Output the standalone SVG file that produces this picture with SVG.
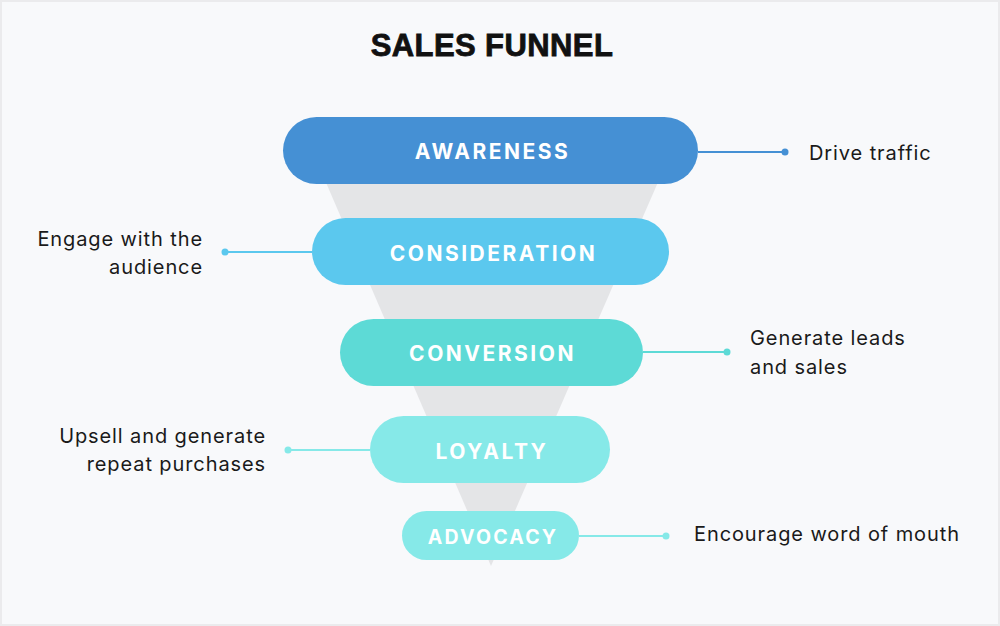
<svg xmlns="http://www.w3.org/2000/svg" width="1000" height="626" viewBox="0 0 1000 626">
<style>
.lbl{font-family:Inter,"Liberation Sans",sans-serif;font-weight:700;font-size:21px;fill:#ffffff;letter-spacing:2.5px;text-anchor:middle}
.txt{font-family:Inter,"Liberation Sans",sans-serif;font-size:20px;fill:#1a1a1a;letter-spacing:0.9px}
.r{text-anchor:end}
.title{font-family:"Liberation Sans",Arial,sans-serif;font-weight:900;font-size:31px;fill:#111111;stroke:#111111;stroke-width:0.8px;letter-spacing:0.4px;text-anchor:middle}
</style>
<rect x="0" y="0" width="1000" height="626" fill="#ebebed"/>
<rect x="2" y="2" width="996" height="622" fill="#f8f9fb"/>
<text class="title" x="492" y="56">SALES FUNNEL</text>
<polygon id="funnel" points="312,150 672,150 491,566" fill="#e4e5e7"/>
<g id="connectors">
<line x1="698" y1="152" x2="785" y2="152" stroke="#4590d4" stroke-width="2"/>
<circle cx="785" cy="152" r="3.5" fill="#4590d4"/>
<line x1="225" y1="252" x2="312" y2="252" stroke="#5bc8ee" stroke-width="2"/>
<circle cx="225" cy="252" r="3.5" fill="#5bc8ee"/>
<line x1="643" y1="352" x2="727" y2="352" stroke="#5ddad6" stroke-width="2"/>
<circle cx="727" cy="352" r="3.5" fill="#5ddad6"/>
<line x1="288" y1="450" x2="370" y2="450" stroke="#86e9e8" stroke-width="2"/>
<circle cx="288" cy="450" r="3.5" fill="#86e9e8"/>
<line x1="579" y1="536" x2="666" y2="536" stroke="#86e9e8" stroke-width="2"/>
<circle cx="666" cy="536" r="3.5" fill="#86e9e8"/>
</g>
<g id="awareness">
<rect x="283" y="117" width="415" height="67" rx="33.5" fill="#4590d4"/>
<text class="lbl" x="492.5" y="159">AWARENESS</text>
</g>
<g id="consideration">
<rect x="312" y="218" width="357" height="67" rx="33.5" fill="#5bc8ee"/>
<text class="lbl" x="493.5" y="260.5">CONSIDERATION</text>
</g>
<g id="conversion">
<rect x="340" y="319" width="303" height="67" rx="33.5" fill="#5ddad6"/>
<text class="lbl" x="492.5" y="360.5">CONVERSION</text>
</g>
<g id="loyalty">
<rect x="370" y="416" width="240" height="67" rx="33.5" fill="#86e9e8"/>
<text class="lbl" x="492" y="458.5">LOYALTY</text>
</g>
<g id="advocacy">
<rect x="402" y="511" width="177" height="49" rx="24.5" fill="#86e9e8"/>
<text class="lbl" x="493" y="544" style="font-size:19.5px;letter-spacing:2.2px">ADVOCACY</text>
</g>
<g id="notes">
<text class="txt" x="809" y="160">Drive traffic</text>
<text class="txt r" x="203" y="246">Engage with the</text>
<text class="txt r" x="203" y="274">audience</text>
<text class="txt" x="750" y="345">Generate leads</text>
<text class="txt" x="750" y="374">and sales</text>
<text class="txt r" x="266" y="443">Upsell and generate</text>
<text class="txt r" x="266" y="471">repeat purchases</text>
<text class="txt" x="694" y="541">Encourage word of mouth</text>
</g>
</svg>
